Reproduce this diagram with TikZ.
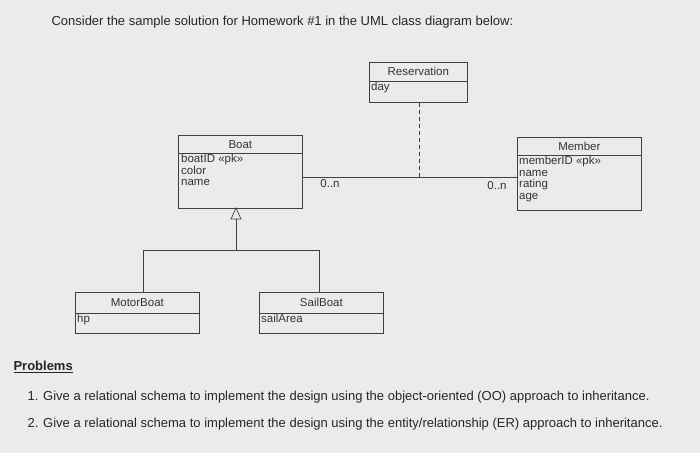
\documentclass[tikz,border=0pt]{standalone}
\usepackage{fontspec}
\setmainfont{Liberation Sans}
\begin{document}
\begin{tikzpicture}[x=1pt,y=-1pt,
  hdr/.style={draw=black!75,line width=0.7pt,anchor=north west,inner sep=0pt,font=\fontsize{11.5}{13}\selectfont,text=black!80},
  bdy/.style={draw=black!75,line width=0.7pt,anchor=north west,inner sep=0pt},
  lbl/.style={font=\fontsize{11.5}{12}\selectfont,text=black!80},
  att/.style={lbl,anchor=north west,inner sep=1pt,align=left,font=\fontsize{11.5}{11.5}\selectfont},
  txt/.style={anchor=west,font=\fontsize{13}{15}\selectfont,text=black!85},
  ln/.style={draw=black!75,line width=0.7pt}]
\fill[black!8] (0,0) rectangle (700,453);
\useasboundingbox (0,0) rectangle (700,453);
\node[txt] (title) at (48,22) {Consider the sample solution for Homework \#1 in the UML class diagram below:};
% Reservation
\node[hdr,minimum width=98pt,minimum height=19pt] (resh) at (369,62) {Reservation};
\node[bdy,minimum width=98pt,minimum height=21pt] (resb) at (369,81) {};
\node[att] (resa) at (370,81) {day};
% Boat
\node[hdr,minimum width=124pt,minimum height=18pt] (boath) at (178,135) {Boat};
\node[bdy,minimum width=124pt,minimum height=55pt] (boatb) at (178,153) {};
\node[att] (boata) at (180,153) {boatID «pk»\\color\\name};
% Member
\node[hdr,minimum width=124pt,minimum height=18pt] (memh) at (517,137) {Member};
\node[bdy,minimum width=124pt,minimum height=55pt] (memb) at (517,155) {};
\node[att] (mema) at (518,155) {memberID «pk»\\name\\rating\\age};
% MotorBoat
\node[hdr,minimum width=124pt,minimum height=21pt] (moth) at (75,292) {MotorBoat};
\node[bdy,minimum width=124pt,minimum height=20pt] (motb) at (75,313) {};
\node[att] (mota) at (76,313) {hp};
% SailBoat
\node[hdr,minimum width=124pt,minimum height=21pt] (saih) at (259,292) {SailBoat};
\node[bdy,minimum width=124pt,minimum height=20pt] (saib) at (259,313) {};
\node[att] (saia) at (260,313) {sailArea};
% association
\coordinate (mid) at (419,177);
\draw[ln] (boatb.east |- mid) -- (memb.west |- mid);
\draw[ln,dash pattern=on 4pt off 3pt] (resb.south -| mid) -- (mid);
\node[lbl] (m1) at (330,184) {0..n};
\node[lbl] (m2) at (497,186) {0..n};
% generalization
\coordinate (apex) at (236,208);
\coordinate (tb) at (236,219);
\coordinate (jn) at (236,250);
\draw[ln] (apex) -- (231,219) -- (241,219) -- cycle;
\draw[ln] (tb) -- (jn);
\draw[ln] (moth.north -| 143,0) -- (143,250) -- (319,250) -- (saih.north -| 319,0);
% problems
\node[txt,font=\bfseries\fontsize{13}{15}\selectfont] (prob) at (10,367) {\underline{Problems}};
\node[txt] (p1) at (24,397) {1. Give a relational schema to implement the design using the object-oriented (OO) approach to inheritance.};
\node[txt] (p2) at (24,424) {2. Give a relational schema to implement the design using the entity/relationship (ER) approach to inheritance.};
\end{tikzpicture}
\end{document}
